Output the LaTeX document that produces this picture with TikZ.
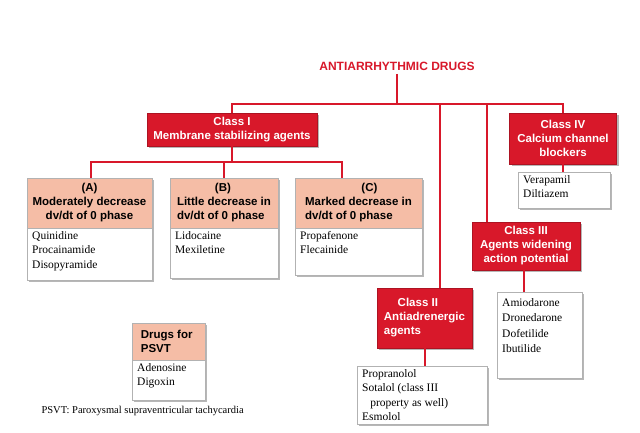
\documentclass[tikz,border=0pt]{standalone}
\usepackage{fontspec}
\setmainfont{Liberation Serif}
\newfontfamily\hdr{Liberation Sans}
\usetikzlibrary{shadows}
\definecolor{cred}{HTML}{D8182A}
\definecolor{cpink}{HTML}{F5BDA6}
\newcommand\bxtxt[3]{\parbox[t][#1pt][t]{#2pt}{\raggedright\strut #3}}
\begin{document}
\begin{tikzpicture}[x=1pt,y=-1pt,
  shad/.style={drop shadow={shadow xshift=2pt,shadow yshift=-2pt,fill=gray!70,opacity=0.8}},
  redbox/.style={shad,fill=cred,draw=cred!80!black,text=white,font=\hdr\bfseries\fontsize{11.5}{14}\selectfont,align=center,inner sep=1pt},
  pinkbox/.style={shad,fill=cpink,draw=gray!60,text=black,font=\hdr\bfseries\fontsize{11.5}{14}\selectfont,align=center,inner sep=1pt},
  body/.style={shad,fill=white,draw=gray!60,font=\fontsize{11.5}{14.5}\selectfont,anchor=north west,inner xsep=5pt,inner ysep=1pt},
  conn/.style={draw=cred,line width=2.2pt}]
\useasboundingbox (0,0) rectangle (640,432);
\fill[white] (0,0) rectangle (640,432);
\node[text=cred,font=\hdr\bfseries\fontsize{12}{14}\selectfont] (title) at (397,66) {ANTIARRHYTHMIC DRUGS};
\coordinate (j) at (397,104);
\coordinate (j2) at (440,104);
\coordinate (j3) at (487,104);
% class boxes
\node[redbox,minimum width=170,minimum height=33] (c1) at (232,129.5) {Class I\\Membrane stabilizing agents};
\node[redbox,minimum width=107,minimum height=51] (c4) at (563,138.5) {Class IV\\Calcium channel\\blockers};
\node[redbox,minimum width=108,minimum height=48] (c3) at (526,246) {Class III\\Agents widening\\action potential};
\node[redbox,minimum width=95,minimum height=60,align=left] (c2) at (424.5,318) {\hspace*{1.2em}Class II\\Antiadrenergic\\agents};
% connectors from title
\draw[conn] (title.south) -- (j);
\draw[conn] (c1.north) |- (j) -| (c4.north);
\draw[conn] (j2) -- (c2.north -| j2);
\draw[conn] (j3) -- (c3.north -| j3);
% subclasses
\node[pinkbox,minimum width=125,minimum height=50] (a) at (89.5,203) {(A)\\Moderately decrease\\dv/dt of 0 phase};
\node[pinkbox,minimum width=108,minimum height=50,align=left] (b) at (224,203) {\hspace*{3.3em}(B)\\Little decrease in\\dv/dt of 0 phase};
\node[pinkbox,minimum width=127,minimum height=50,align=left] (c) at (358.5,203) {\hspace*{4.9em}(C)\\Marked decrease in\\dv/dt of 0 phase};
\coordinate (k) at (232,162);
\draw[conn] (c1.south) -- (k);
\draw[conn] (a.north -| 91,0) |- (k) -| (c.north -| 342,0);
\draw[conn] (k -| b.north) -- (b.north);
\node[body] (ab) at (27,228) {\bxtxt{50}{115}{Quinidine\\Procainamide\\Disopyramide}};
\node[body] (bb) at (170,228) {\bxtxt{48}{98}{Lidocaine\\Mexiletine}};
\node[body] (cb) at (295,228) {\bxtxt{45}{117}{Propafenone\\Flecainide}};
% class IV drugs
\node[body] (vb) at (518,172) {\bxtxt{34}{82}{Verapamil\\Diltiazem}};
\draw[conn] (c4.south) -- (vb.north -| c4.south);
% class III drugs
\node[body,font=\fontsize{11.5}{15.5}\selectfont,inner ysep=3pt] (amb) at (497,292) {\bxtxt{80}{75}{Amiodarone\\Dronedarone\\Dofetilide\\Ibutilide}};
\draw[conn] (c3.south -| 524,0) -- (amb.north -| 524,0);
% class II drugs
\node[body] (pb) at (357,366) {\bxtxt{56}{120}{Propranolol\\Sotalol (class III\\\hspace*{0.7em}property as well)\\Esmolol}};
\draw[conn] (c2.south -| 425,0) -- (pb.north -| 425,0);
% PSVT
\node[pinkbox,minimum width=73,minimum height=37,align=left] (ps) at (168.5,341.5) {Drugs for\\PSVT\hspace*{2.2em}};
\node[body] (psb) at (132,360) {\bxtxt{38}{63}{Adenosine\\Digoxin}};
\node[anchor=west,font=\fontsize{10.5}{12}\selectfont] (fn) at (38,411) {PSVT: Paroxysmal supraventricular tachycardia};
\end{tikzpicture}
\end{document}
